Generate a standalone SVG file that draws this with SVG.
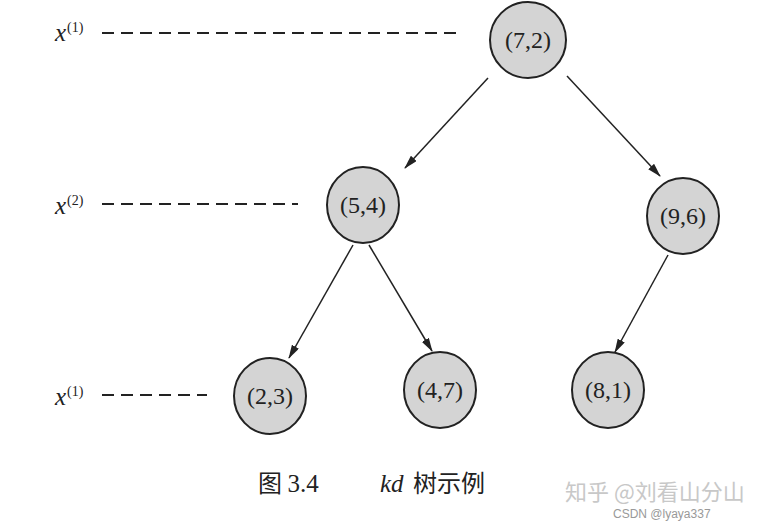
<svg xmlns="http://www.w3.org/2000/svg" width="780" height="526" viewBox="0 0 780 526">
<style>
.n{fill:#d4d4d4;stroke:#222;stroke-width:2}
.t{font-family:"Liberation Serif","Times New Roman","DejaVu Serif",serif;font-size:24px;fill:#222;text-anchor:middle}
.x{font-family:"Liberation Serif","Times New Roman","DejaVu Serif",serif;font-size:25px;font-style:italic;fill:#222}
.s{font-family:"Liberation Serif","Times New Roman","DejaVu Serif",serif;font-size:14px;fill:#222}
.d{stroke:#222;stroke-width:2;stroke-dasharray:12,7}
.e{stroke:#222;stroke-width:1.5;marker-end:url(#a)}
</style>
<defs><marker id="a" markerWidth="14" markerHeight="8" refX="13" refY="4" orient="auto" markerUnits="userSpaceOnUse"><path d="M0,0 L14,4 L0,8 Z" fill="#222"/></marker></defs>
<rect width="780" height="526" fill="#fff"/>
<g id="levels">
<text class="x" x="55" y="41">x</text><text class="s" x="67" y="32">(1)</text>
<line class="d" x1="102" y1="33" x2="463" y2="33"/>
<text class="x" x="55" y="214">x</text><text class="s" x="67" y="205">(2)</text>
<line class="d" x1="102" y1="204" x2="298" y2="204"/>
<text class="x" x="55" y="405">x</text><text class="s" x="67" y="396">(1)</text>
<line class="d" x1="102" y1="395" x2="207" y2="395"/>
</g>
<g id="edges">
<line class="e" x1="488" y1="78" x2="405" y2="168"/>
<line class="e" x1="567" y1="76" x2="660" y2="176"/>
<line class="e" x1="353" y1="245" x2="289" y2="358"/>
<line class="e" x1="369" y1="245" x2="432" y2="351"/>
<line class="e" x1="668" y1="255" x2="615" y2="352"/>
</g>
<g id="n72"><ellipse class="n" cx="528" cy="40" rx="38" ry="38"/><text class="t" x="528" y="48">(7,2)</text></g>
<g id="n54"><ellipse class="n" cx="363" cy="205" rx="36" ry="38"/><text class="t" x="363" y="213">(5,4)</text></g>
<g id="n96"><ellipse class="n" cx="683" cy="216" rx="36" ry="38"/><text class="t" x="683" y="224">(9,6)</text></g>
<g id="n23"><ellipse class="n" cx="270" cy="396" rx="36" ry="38"/><text class="t" x="270" y="404">(2,3)</text></g>
<g id="n47"><ellipse class="n" cx="440" cy="390" rx="36" ry="38"/><text class="t" x="440" y="398">(4,7)</text></g>
<g id="n81"><ellipse class="n" cx="608" cy="390" rx="36" ry="38"/><text class="t" x="608" y="398">(8,1)</text></g>
<text x="258" y="492" font-family="'Noto Sans CJK SC',sans-serif" font-size="24" fill="#222">图 <tspan font-family="'Liberation Serif','DejaVu Serif',serif" font-size="25">3.4</tspan></text>
<text x="380" y="492" font-family="'Liberation Serif','DejaVu Serif',serif" font-size="25" font-style="italic" fill="#222">kd</text>
<text x="413" y="492" font-family="'Noto Sans CJK SC',sans-serif" font-size="24" fill="#222">树示例</text>
<text x="565" y="500" font-family="'Noto Sans CJK SC',sans-serif" font-size="22" fill="#c8c8c8">知乎 @刘看山分山</text>
<text x="613" y="518" font-family="'Liberation Sans',sans-serif" font-size="12" fill="#999">CSDN @lyaya337</text>
</svg>
